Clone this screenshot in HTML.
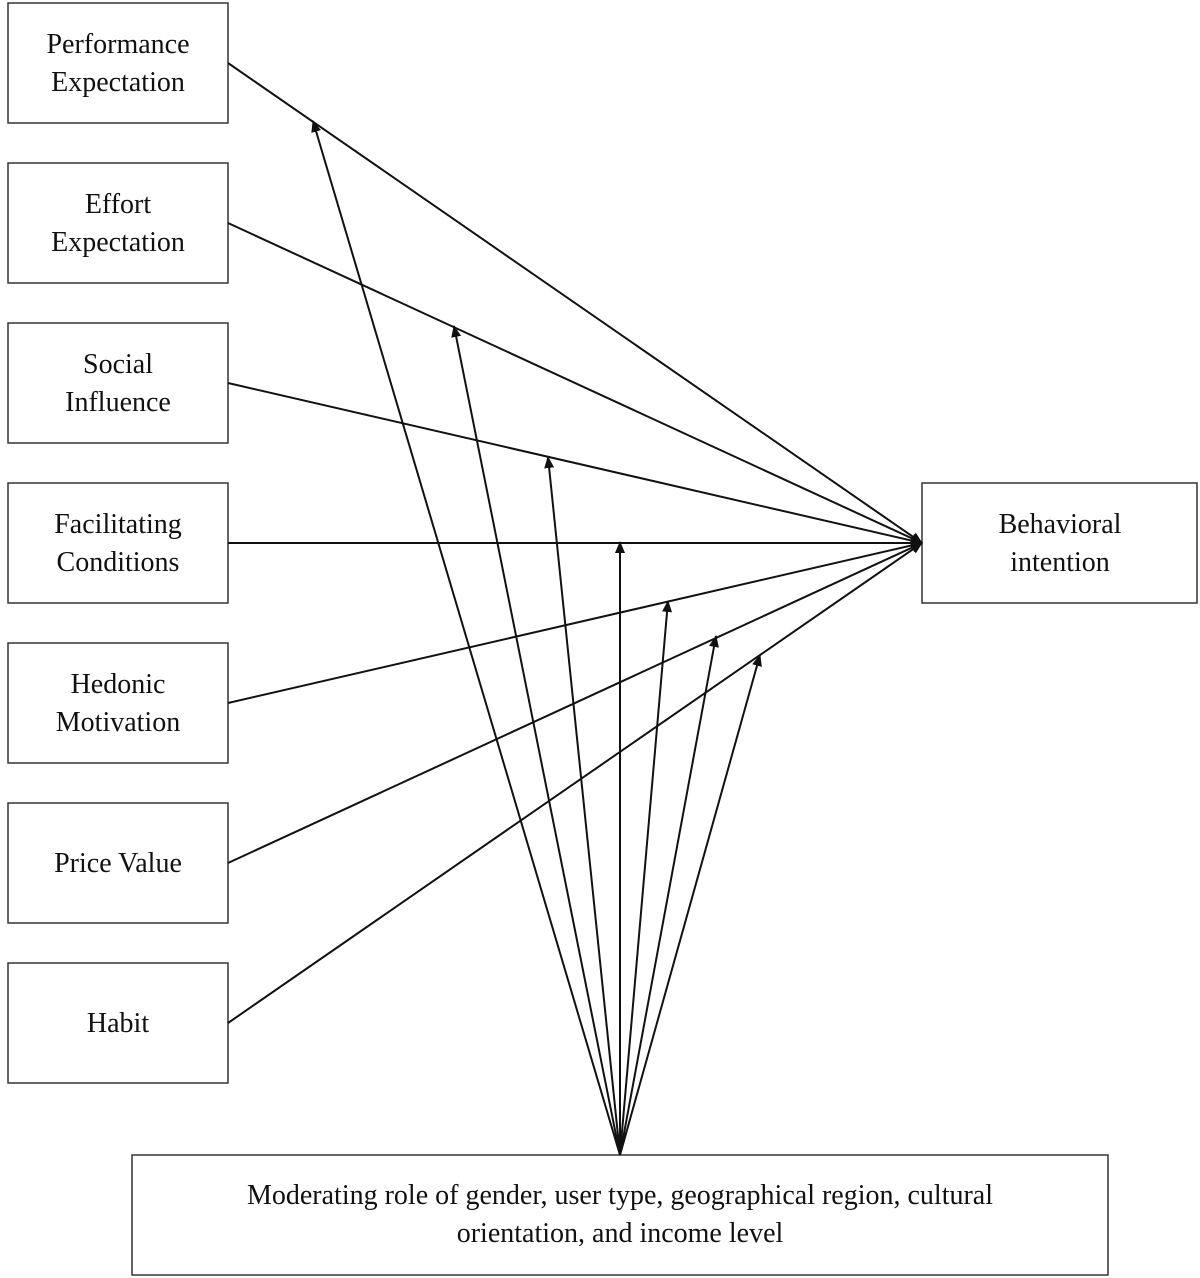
<!DOCTYPE html>
<html><head><style>
body{margin:0;background:#fff;}
svg{display:block;}
text{font-family:"Liberation Serif",serif;font-size:28px;fill:#111;}
</style></head><body>
<svg width="1200" height="1278" viewBox="0 0 1200 1278" xmlns="http://www.w3.org/2000/svg">
<defs><marker id="a" markerWidth="12" markerHeight="10" refX="11" refY="5" orient="auto" markerUnits="userSpaceOnUse"><path d="M0,0 L12,5 L0,10 Z" fill="#111"/></marker></defs>
<g fill="none" stroke="#333" stroke-width="1.5">
<rect x="8" y="3" width="220" height="120"/>
<rect x="8" y="163" width="220" height="120"/>
<rect x="8" y="323" width="220" height="120"/>
<rect x="8" y="483" width="220" height="120"/>
<rect x="8" y="643" width="220" height="120"/>
<rect x="8" y="803" width="220" height="120"/>
<rect x="8" y="963" width="220" height="120"/>
<rect x="922" y="483" width="275" height="120"/>
<rect x="132" y="1155" width="976" height="120"/>
</g>
<g stroke="#111" stroke-width="2" marker-end="url(#a)">
<line x1="228" y1="63" x2="922" y2="543"/>
<line x1="228" y1="223" x2="922" y2="543"/>
<line x1="228" y1="383" x2="922" y2="543"/>
<line x1="228" y1="543" x2="922" y2="543"/>
<line x1="228" y1="703" x2="922" y2="543"/>
<line x1="228" y1="863" x2="922" y2="543"/>
<line x1="228" y1="1023" x2="922" y2="543"/>
<line x1="620" y1="1155" x2="313" y2="121"/>
<line x1="620" y1="1155" x2="454" y2="326"/>
<line x1="620" y1="1155" x2="548" y2="457"/>
<line x1="620" y1="1155" x2="620" y2="542"/>
<line x1="620" y1="1155" x2="668" y2="601"/>
<line x1="620" y1="1155" x2="716" y2="636"/>
<line x1="620" y1="1155" x2="760" y2="655"/>
</g>
<g text-anchor="middle">
<text x="118" y="53">Performance</text><text x="118" y="91">Expectation</text>
<text x="118" y="213">Effort</text><text x="118" y="251">Expectation</text>
<text x="118" y="373">Social</text><text x="118" y="411">Influence</text>
<text x="118" y="533">Facilitating</text><text x="118" y="571">Conditions</text>
<text x="118" y="693">Hedonic</text><text x="118" y="731">Motivation</text>
<text x="118" y="872">Price Value</text>
<text x="118" y="1032">Habit</text>
<text x="1060" y="533">Behavioral</text><text x="1060" y="571">intention</text>
<text x="620" y="1204">Moderating role of gender, user type, geographical region, cultural</text>
<text x="620" y="1242">orientation, and income level</text>
</g>
</svg>
</body></html>
